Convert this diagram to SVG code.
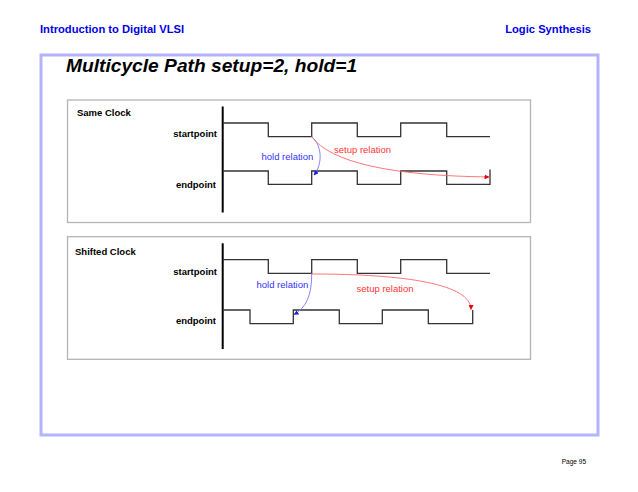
<svg xmlns="http://www.w3.org/2000/svg" width="638" height="492" viewBox="0 0 638 492">
<style>
.hdr{font-family:"Liberation Sans",Arial,sans-serif;font-weight:bold;font-size:11.2px;fill:#0000e6}
.title{font-family:"Liberation Sans",Arial,sans-serif;font-weight:bold;font-style:italic;font-size:19.2px;fill:#000}
.lbl{font-family:"Liberation Sans",Arial,sans-serif;font-weight:bold;font-size:9.5px;fill:#000}
.hold{font-family:"Liberation Sans",Arial,sans-serif;font-size:9.5px;fill:#3333ff}
.setup{font-family:"Liberation Sans",Arial,sans-serif;font-size:9.5px;fill:#ff3333}
.panel{fill:#fff;stroke:#b4b4b4;stroke-width:1.3}
.axis{stroke:#000;stroke-width:2;fill:none}
.wave{stroke:#333;stroke-width:1.3;fill:none}
.harr{stroke:#7777ff;stroke-width:0.9;fill:none}
.sarr{stroke:#ff6666;stroke-width:0.9;fill:none}
</style>
<defs>
<marker id="mb" viewBox="0 0 10 10" refX="9" refY="5" markerWidth="5" markerHeight="5" markerUnits="userSpaceOnUse" orient="auto">
<path d="M0,0 L10,5 L0,10 z" fill="#2222dd"/>
</marker>
<marker id="mr" viewBox="0 0 10 10" refX="9" refY="5" markerWidth="5" markerHeight="5" markerUnits="userSpaceOnUse" orient="auto">
<path d="M0,0 L10,5 L0,10 z" fill="#ee0000"/>
</marker>
</defs>
<rect x="0" y="0" width="638" height="492" fill="#fff"/>
<g id="header">
<text class="hdr" x="40" y="33">Introduction to Digital VLSI</text>
<text class="hdr" x="591" y="33" text-anchor="end">Logic Synthesis</text>
</g>
<rect id="frame" x="41" y="55" width="557" height="380" fill="none" stroke="#b3b3ff" stroke-width="3"/>
<text id="title" class="title" x="66" y="72">Multicycle Path setup=2, hold=1</text>

<g id="same-clock">
<rect class="panel" x="67.5" y="100" width="463" height="122.5"/>
<text class="lbl" x="77" y="116">Same Clock</text>
<line class="axis" x1="222.7" y1="106.5" x2="222.7" y2="212.5"/>
<g id="same-startpoint">
<text class="lbl" x="217" y="137" text-anchor="end">startpoint</text>
<path class="wave" d="M222.7,123 H268.3 V136.7 H311.7 V123 H357.3 V136.7 H400.7 V123 H446.7 V136.7 H490"/>
</g>
<g id="same-endpoint">
<text class="lbl" x="216" y="187.5" text-anchor="end">endpoint</text>
<path class="wave" d="M222.7,171 H268.3 V184.3 H311.7 V171 H357.3 V184.3 H400.7 V171 H446.7 V184.3 H490 V169.5"/>
</g>
<text class="hold" x="261.5" y="160">hold relation</text>
<text class="setup" x="334" y="153">setup relation</text>
</g>

<g id="shifted-clock">
<rect class="panel" x="67.5" y="236.7" width="463" height="122.6"/>
<text class="lbl" x="75" y="255">Shifted Clock</text>
<line class="axis" x1="222.7" y1="243.3" x2="222.7" y2="349"/>
<g id="shifted-startpoint">
<text class="lbl" x="217" y="274.5" text-anchor="end">startpoint</text>
<path class="wave" d="M222.7,259.7 H268.3 V273.3 H311.7 V259.7 H357.3 V273.3 H400.7 V259.7 H446.7 V273.3 H490"/>
</g>
<g id="shifted-endpoint">
<text class="lbl" x="216" y="324" text-anchor="end">endpoint</text>
<path class="wave" d="M222.7,310 H250 V323.7 H293.3 V310 H339.3 V323.7 H382.3 V310 H428.3 V323.7 H472.7 V310"/>
</g>
<text class="hold" x="256.5" y="288">hold relation</text>
<text class="setup" x="356.5" y="292">setup relation</text>
</g>

<g id="connectors">
<path class="harr" d="M311.7,136.7 C322,145 323,164 314,175" marker-end="url(#mb)"/>
<path class="sarr" d="M311.7,136.7 Q340,175 489,177" marker-end="url(#mr)"/>
<path class="harr" d="M311.7,273.3 C312,295 306,308 294,314.5" marker-end="url(#mb)"/>
<path class="sarr" d="M311.7,274 C405,274 471,284 471,309.5" marker-end="url(#mr)"/>
</g>

<text id="page" x="586" y="463.5" text-anchor="end" font-family="Liberation Sans, Arial, sans-serif" font-size="6.5" fill="#000">Page 95</text>
</svg>
